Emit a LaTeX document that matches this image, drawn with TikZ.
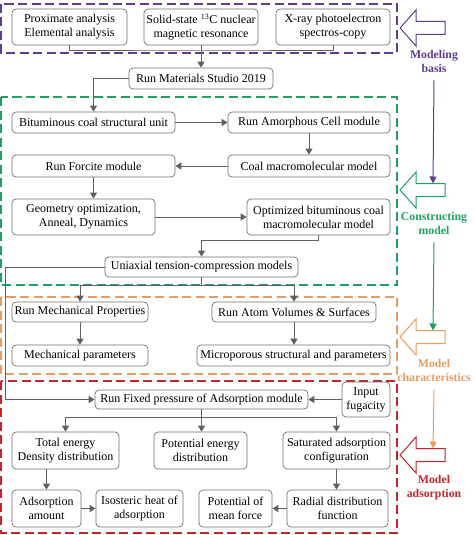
\documentclass[tikz,border=0pt]{standalone}
\usepackage{fontspec}
\setmainfont{Liberation Serif}
\usetikzlibrary{arrows.meta}

\definecolor{cpurple}{RGB}{94,60,143}
\definecolor{cgreen}{RGB}{32,160,96}
\definecolor{corange}{RGB}{232,156,100}
\definecolor{cred}{RGB}{192,38,44}
\definecolor{linegray}{RGB}{96,96,96}
\definecolor{boxgray}{RGB}{110,110,110}

\begin{document}
\begin{tikzpicture}[x=1pt,y=-1pt,
    font=\fontsize{12}{14}\selectfont,
    box/.style={draw=boxgray, rounded corners=4pt, line width=0.7pt, align=center, inner sep=1pt},
    flow/.style={draw=linegray, line width=1pt, -{Triangle[length=6pt,width=7pt]}},
    plain/.style={draw=linegray, line width=1pt},
    region/.style={line width=1.4pt, dash pattern=on 9pt off 4.5pt},
    sidelab/.style={font=\fontsize{11.8}{14}\selectfont\bfseries, align=center}]
	%Bounds
      \useasboundingbox (0,0) rectangle (474,535);

	%Regions
      \draw[region, cpurple] (1,4) rectangle (397,53);
      \draw[region, cgreen] (1,97) rectangle (397,285);
      \draw[region, corange] (1,297) rectangle (397,374);
      \draw[region, cred] (1,381) rectangle (397,533);

	%Modeling basis
      \node[box, minimum width=115pt, minimum height=36pt] (prox) at (69.5,27) {Proximate analysis\\Elemental analysis};
      \node[box, minimum width=114pt, minimum height=36pt] (nmr) at (201,27) {Solid-state \textsuperscript{13}C nuclear\\magnetic resonance};
      \node[box, minimum width=114pt, minimum height=36pt] (xps) at (333,27) {X-ray photoelectron\\spectros-copy};
      \node[box, minimum width=144pt, minimum height=21pt] (runms) at (201,78.5) {Run Materials Studio 2019};

	%Constructing model
      \node[box, minimum width=163pt, minimum height=21pt] (unit) at (93.5,122.5) {Bituminous coal structural unit};
      \node[box, minimum width=162pt, minimum height=21pt] (amorph) at (309,122.5) {Run Amorphous Cell module};
      \node[box, minimum width=163pt, minimum height=22pt] (forcite) at (93.5,166) {Run Forcite module};
      \node[box, minimum width=162pt, minimum height=22pt] (macro) at (309,166) {Coal macromolecular model};
      \node[box, minimum width=143pt, minimum height=36pt] (geom) at (83.5,217) {Geometry optimization,\\Anneal, Dynamics};
      \node[box, minimum width=143pt, minimum height=36pt] (optim) at (318.5,217) {Optimized bituminous coal\\macromolecular model};
      \node[box, minimum width=193pt, minimum height=20pt] (uniax) at (201.5,267) {Uniaxial tension-compression models};

	%Model characteristics
      \node[box, minimum width=136pt, minimum height=20pt] (runmech) at (80,312) {Run Mechanical Properties};
      \node[box, minimum width=164pt, minimum height=20pt] (runatom) at (294,312) {Run Atom Volumes \& Surfaces};
      \node[box, minimum width=136pt, minimum height=21pt] (mechpar) at (80,355.5) {Mechanical parameters};
      \node[box, minimum width=193pt, minimum height=21pt] (micro) at (293.5,355.5) {Microporous structural and parameters};

	%Model adsorption
      \node[box, minimum width=213pt, minimum height=19pt] (runfix) at (201.5,399.5) {Run Fixed pressure of Adsorption module};
      \node[box, minimum width=48pt, minimum height=35pt] (fugac) at (366,399.5) {Input\\fugacity};
      \node[box, minimum width=107pt, minimum height=37pt] (totalen) at (65.5,450.5) {Total energy\\Density distribution};
      \node[box, minimum width=93pt, minimum height=37pt] (poten) at (200.5,450.5) {Potential energy\\distribution};
      \node[box, minimum width=107pt, minimum height=37pt] (satur) at (336.5,450.5) {Saturated adsorption\\configuration};
      \node[box, minimum width=69pt, minimum height=37pt] (adsamt) at (46.5,508.5) {Adsorption\\amount};
      \node[box, minimum width=87pt, minimum height=37pt] (isost) at (139.5,508.5) {Isosteric heat of\\adsorption};
      \node[box, minimum width=73pt, minimum height=37pt] (pmf) at (235.5,508.5) {Potential of\\mean force};
      \node[box, minimum width=101pt, minimum height=37pt] (radial) at (337.5,508.5) {Radial distribution\\function};

	%Joints
      \coordinate (jbasis) at (201,51);
      \coordinate (jopt) at (201.5,240);
      \coordinate (juni) at (201.5,285);
      \coordinate (jleft) at (5,399.5);
      \coordinate (jfix) at (201.5,417);

	%Connectors
      \draw[plain] (prox.south) |- (jbasis) -| (xps.south);
      \draw[flow] (nmr.south) -- (runms.north);
      \draw[flow] (runms.west) -| (unit.north);
      \draw[flow] (unit.east) -- (amorph.west);
      \draw[flow] (amorph.south) -- (macro.north);
      \draw[flow] (macro.west) -- (forcite.east);
      \draw[flow] (forcite.south) -- (forcite.south |- geom.north);
      \draw[flow] (geom.east) -- (optim.west);
      \draw[flow] (optim.south) |- (jopt) -- (uniax.north);
      \draw[flow] (uniax.south) -- (juni) -| (runmech.north);
      \draw[flow] (juni) -| (runatom.north);
      \draw[flow] (uniax.west) -| (jleft) -- (runfix.west);
      \draw[flow] (runmech.south) -- (mechpar.north);
      \draw[flow] (runatom.south) -- (runatom.south |- micro.north);
      \draw[flow] (fugac.west) -- (runfix.east);
      \draw[flow] (runfix.south) -- (jfix) -| (totalen.north);
      \draw[flow] (jfix) -- (poten.north -| jfix);
      \draw[flow] (jfix) -| (satur.north);
      \draw[flow] (adsamt.north |- totalen.south) -- (adsamt.north);
      \draw[flow] (adsamt.east) -- (isost.west);
      \draw[flow] (satur.south) -- (satur.south |- radial.north);
      \draw[flow] (radial.west) -- (pmf.east);

	%Side arrows
      \foreach \yy/\cc/\lab/\nm in {28/cpurple/{Modeling\\basis}/lbasis,
          190/cgreen/{Constructing\\model}/lcons,
          337/corange/{Model\\characteristics}/lchar,
          455/cred/{Model\\adsorption}/lads}{
        \draw[line width=1pt, draw=\cc, fill=white, line join=miter]
          (400,\yy) -- (416,{\yy-18}) -- (416,{\yy-6.5}) -- (445,{\yy-6.5})
          -- (445,{\yy+6.5}) -- (416,{\yy+6.5}) -- (416,{\yy+18}) -- cycle;
        \coordinate (t\nm) at (433,{\yy-6.5});
        \node[sidelab, text=\cc, inner sep=0pt] (\nm) at (434,{\yy+33}) {\lab};
      }
      \draw[cpurple, line width=1pt, -{Triangle[length=7pt,width=7pt]}] (lbasis.south) ++(0,8) -- (tlcons);
      \draw[cgreen, line width=1pt, -{Triangle[length=7pt,width=7pt]}] (lcons.south) ++(0,8) -- (tlchar);
      \draw[corange, line width=1pt, -{Triangle[length=7pt,width=7pt]}] (lchar.south) ++(0,8) -- (tlads);
\end{tikzpicture}
\end{document}
